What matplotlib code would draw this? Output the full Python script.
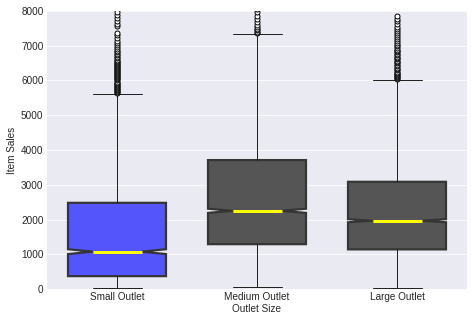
import matplotlib
matplotlib.use("Agg")
import matplotlib.pyplot as plt

plt.style.use("seaborn-v0_8-darkgrid")
plt.rcParams['font.family'] = ['Liberation Sans', 'DejaVu Sans']

labels = ['Small Outlet', 'Medium Outlet', 'Large Outlet']
whislo = [33, 69, 33]
q1 = [370, 1290, 1140]
med = [1075, 2250, 1965]
q3 = [2480, 3710, 3085]
whishi = [5620, 7330, 6020]
cilo = [1005, 2190, 1920]
cihi = [1145, 2310, 2010]
box_colors = ['#5555fc', '#555555', '#555555']

fliers_small = [5650, 5680, 5700, 5730, 5760, 5790, 5820, 5850, 5880, 5910,
                5940, 5970, 6000, 6030, 6060, 6090, 6120, 6150, 6180, 6210,
                6240, 6270, 6300, 6330, 6360, 6390, 6420, 6450, 6480, 6510,
                6540, 6570, 6600, 6640, 6680, 6720, 6760, 6810, 6860, 6910,
                6960, 7020, 7080, 7150, 7220, 7300, 7360, 7560, 7640, 7720,
                7800, 7880, 7960]
fliers_medium = [7360, 7400, 7440, 7480, 7550, 7600, 7690, 7780, 7860, 7960,
                 8050, 8150]
fliers_large = [6040, 6070, 6100, 6130, 6160, 6190, 6220, 6250, 6290, 6330,
                6370, 6410, 6450, 6490, 6530, 6570, 6610, 6650, 6690, 6730,
                6770, 6810, 6850, 6890, 6930, 6980, 7030, 7080, 7130, 7190,
                7250, 7310, 7370, 7430, 7490, 7550, 7620, 7700, 7780, 7870]
fliers = [fliers_small, fliers_medium, fliers_large]

stats = []
for i in range(3):
    stats.append(dict(label=labels[i], whislo=whislo[i], q1=q1[i], med=med[i],
                      q3=q3[i], whishi=whishi[i], cilo=cilo[i], cihi=cihi[i],
                      fliers=fliers[i]))

fig = plt.figure(figsize=(474 / 72, 327 / 72), dpi=72)
ax = fig.add_axes([47 / 474, (327 - 289) / 327, 420 / 474, 278 / 327])

bp = ax.bxp(stats, widths=0.7, shownotches=True, patch_artist=True,
            boxprops=dict(linewidth=2.2, edgecolor='#353535'),
            medianprops=dict(color='yellow', linewidth=3),
            whiskerprops=dict(color='#222222', linewidth=1.0),
            capprops=dict(color='#222222', linewidth=1.0),
            flierprops=dict(marker='o', markerfacecolor='white',
                            markeredgecolor='black', markersize=5,
                            markeredgewidth=1.0))
for patch, c in zip(bp['boxes'], box_colors):
    patch.set_facecolor(c)

ax.set_ylim(0, 8000)
ax.set_xlim(0.5, 3.5)
ax.set_xlabel('Outlet Size', fontsize=10, labelpad=2)
ax.set_ylabel('Item Sales', fontsize=10)
ax.tick_params(labelsize=10)

fig.savefig('out.png', dpi=72)
